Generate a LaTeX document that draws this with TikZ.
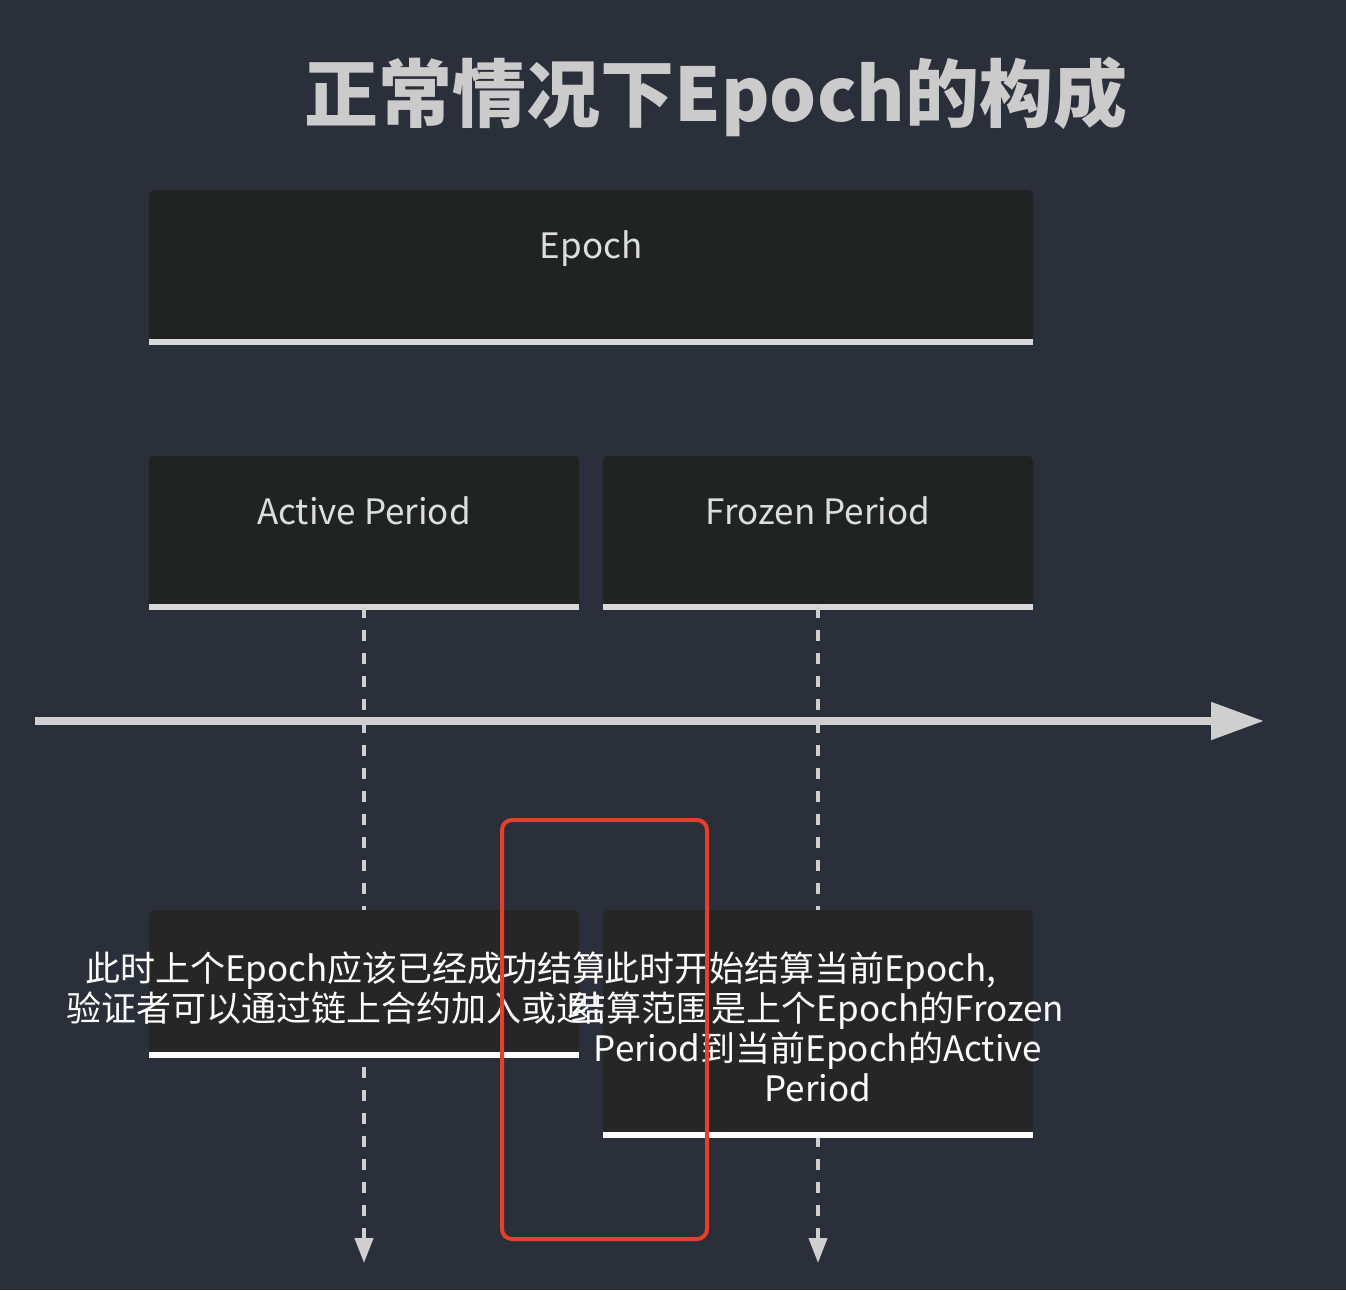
\documentclass[tikz,border=0pt]{standalone}
\usepackage{fontspec}
\setmainfont{Noto Sans CJK SC}
\usetikzlibrary{arrows.meta}

\definecolor{bgcol}{HTML}{2B2F3A}
\definecolor{boxcol}{HTML}{212322}
\definecolor{notecol}{HTML}{252625}
\definecolor{barcol}{HTML}{D9D9D9}
\definecolor{txtcol}{HTML}{DDDDDD}
\definecolor{redcol}{HTML}{E5402A}
\definecolor{linecol}{HTML}{CFCFCF}

\begin{document}
\begin{tikzpicture}[x=1pt,y=-1pt,
    box/.style={fill=boxcol,rounded corners=5pt,inner sep=0pt,outer sep=0pt,anchor=north west},
    notebox/.style={box,fill=notecol},
    bar/.style={barcol,line width=6pt},
    whitebar/.style={white,line width=6pt},
    lbl/.style={txtcol,inner sep=0pt,anchor=base,font=\fontsize{35}{40}\selectfont},
    notetxt/.style={white,inner sep=0pt,anchor=north,align=center,font=\fontsize{35}{40}\selectfont},
    lifeline/.style={linecol,line width=4pt,dash pattern=on 11pt off 12pt,-{Triangle[length=25pt,width=18pt]}},
    timeline/.style={linecol,line width=8pt,-{Triangle[length=53pt,width=36pt]}}]
				\fill[bgcol] (0,0) rectangle (1346,1290);
				\node[font=\fontsize{74}{80}\selectfont\bfseries,text=txtcol!92!black,anchor=base,inner sep=0pt] (title) at (716,121) {正常情况下Epoch的构成};
				% boxes on top
				\node[box,minimum width=884pt,minimum height=152pt] (epoch) at (149,190) {};
				\draw[bar] (epoch.south west) -- (epoch.south east);
				\node[lbl] (epochtxt) at (591,258) {Epoch};
				\node[box,minimum width=430pt,minimum height=151pt] (active) at (149,456) {};
				\draw[bar] (active.south west) -- (active.south east);
				\node[lbl] (activetxt) at (364,524) {Active Period};
				\node[box,minimum width=430pt,minimum height=151pt] (frozen) at (603,456) {};
				\draw[bar] (frozen.south west) -- (frozen.south east);
				\node[lbl] (frozentxt) at (818,524) {Frozen Period};
				% lifelines and time axis
				\coordinate (aend) at (364,1263);
				\coordinate (fend) at (818,1263);
				\draw[lifeline] (active.south) -- (aend);
				\draw[lifeline] (frozen.south) -- (fend);
				\coordinate (tstart) at (35,721);
				\coordinate (tend) at (1264,721);
				\draw[timeline] (tstart) -- (tend);
				% notes
				\node[notebox,minimum width=430pt,minimum height=145pt] (noteA) at (149,910) {};
				\draw[whitebar] (noteA.south west) -- (noteA.south east);
				\node[notetxt] (noteAtxt) at (364,952) {此时上个Epoch应该已经成功结算，\\验证者可以通过链上合约加入或退出。};
				\node[notebox,minimum width=430pt,minimum height=225pt] (noteB) at (603,910) {};
				\draw[whitebar] (noteB.south west) -- (noteB.south east);
				\node[notetxt] (noteBtxt) at (818,952) {此时开始结算当前Epoch,\hspace*{1em}\\结算范围是上个Epoch的Frozen\\Period到当前Epoch的Active\\Period};
				% highlight
				\draw[redcol,line width=4pt,rounded corners=10pt] (502,820) rectangle (707,1239);
			\end{tikzpicture}
\end{document}
